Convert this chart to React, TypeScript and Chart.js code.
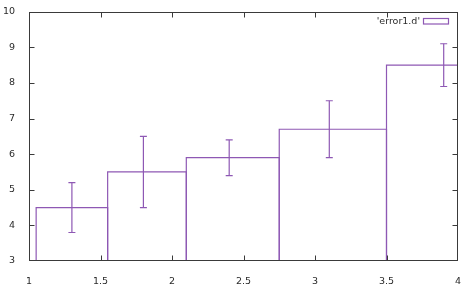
import { useEffect, useRef } from 'react';
import { Chart, registerables } from 'chart.js';
Chart.register(...registerables);

const xValues = [1.3, 1.8, 2.4, 3.1, 3.9];
const yValues = [4.5, 5.5, 5.9, 6.7, 8.5];
const yErrors = [0.7, 1.0, 0.5, 0.8, 0.6];
const xTicks = [1, 1.5, 2, 2.5, 3, 3.5, 4];
const yTicks = [3, 4, 5, 6, 7, 8, 9, 10];
const legendLabel = "'error1.d'";
const BOX_BASE = 0;

const PURPLE = '#8e58b4';
const AXIS = '#3a3a3a';
const TEXT = '#2a2a2a';
const FONT = { family: 'DejaVu Sans', size: 9.5 };

export default function App() {
  const ref = useRef<HTMLCanvasElement>(null);
  useEffect(() => {
    const n = xValues.length;
    const boxDatasets = xValues.map((x, i) => {
      const prev = i > 0 ? xValues[i - 1] : x - (xValues[1] - xValues[0]);
      const next = i < n - 1 ? xValues[i + 1] : x + (x - xValues[i - 1]);
      const left = (prev + x) / 2;
      const right = (x + next) / 2;
      return {
        type: 'line' as const,
        data: [
          { x: left, y: BOX_BASE },
          { x: left, y: yValues[i] },
          { x: right, y: yValues[i] },
          { x: right, y: BOX_BASE },
        ],
        borderColor: PURPLE,
        borderWidth: 1.2,
        pointRadius: 0,
        fill: false,
        tension: 0,
      };
    });
    const errDatasets = xValues.map((x, i) => ({
      type: 'line' as const,
      data: [
        { x, y: yValues[i] - yErrors[i] },
        { x, y: yValues[i] + yErrors[i] },
      ],
      borderColor: PURPLE,
      borderWidth: 1.2,
      pointStyle: 'line' as const,
      pointRadius: 3.5,
      pointBorderColor: PURPLE,
      pointBorderWidth: 1.2,
      fill: false,
    }));

    const framePlugin = {
      id: 'frame',
      afterDraw(chart: any) {
        const { ctx, chartArea: a, scales } = chart;
        ctx.save();
        ctx.strokeStyle = AXIS;
        ctx.lineWidth = 1;
        const L = Math.round(a.left) + 0.5;
        const R = Math.round(a.right) - 0.5;
        const T = Math.round(a.top) + 0.5;
        const B = Math.round(a.bottom) - 0.5;
        ctx.strokeRect(L, T, R - L, B - T);
        const tl = 5;
        const clamp = (v: number, lo: number, hi: number) => Math.min(hi, Math.max(lo, v));
        ctx.beginPath();
        xTicks.forEach((v) => {
          const px = clamp(Math.round(scales.x.getPixelForValue(v)) + 0.5, L, R);
          ctx.moveTo(px, B);
          ctx.lineTo(px, B - tl);
          ctx.moveTo(px, T);
          ctx.lineTo(px, T + tl);
        });
        yTicks.forEach((v) => {
          const py = clamp(Math.round(scales.y.getPixelForValue(v)) + 0.5, T, B);
          ctx.moveTo(L, py);
          ctx.lineTo(L + tl, py);
          ctx.moveTo(R, py);
          ctx.lineTo(R - tl, py);
        });
        ctx.stroke();
        // legend
        ctx.fillStyle = TEXT;
        ctx.font = `${FONT.size}px ${FONT.family}`;
        ctx.textAlign = 'right';
        ctx.textBaseline = 'middle';
        ctx.fillText(legendLabel, 420, 21.5);
        ctx.strokeStyle = PURPLE;
        ctx.lineWidth = 1.2;
        ctx.strokeRect(423.5, 18.5, 25, 5.5);
        ctx.restore();
      },
    };

    const chart = new Chart(ref.current!, {
      type: 'line',
      data: { datasets: [...boxDatasets, ...errDatasets] as any },
      options: {
        animation: false,
        responsive: false,
        devicePixelRatio: 1,
        layout: { padding: { top: 11, right: 16, left: 0, bottom: 0 } },
        plugins: { legend: { display: false }, tooltip: { enabled: false } },
        scales: {
          x: {
            type: 'linear',
            min: 1,
            max: 4,
            afterBuildTicks: (s: any) => {
              s.ticks = xTicks.map((v) => ({ value: v }));
            },
            afterFit: (s: any) => {
              s.height = 32;
            },
            grid: { display: false },
            border: { display: false },
            ticks: {
              font: FONT,
              color: TEXT,
              padding: 7,
              maxRotation: 0,
              autoSkip: false,
              callback: (v: any) => String(v),
            },
          },
          y: {
            type: 'linear',
            min: 3,
            max: 10,
            afterBuildTicks: (s: any) => {
              s.ticks = yTicks.map((v) => ({ value: v }));
            },
            afterFit: (s: any) => {
              s.width = 29;
            },
            grid: { display: false },
            border: { display: false },
            ticks: {
              font: FONT,
              color: TEXT,
              padding: 6,
              autoSkip: false,
              callback: (v: any) => String(v),
            },
          },
        },
      },
      plugins: [framePlugin],
    });
    return () => chart.destroy();
  }, []);

  return (
    <div style={{ position: 'fixed', left: 0, top: 0, width: 474, height: 293, background: '#fff' }}>
      <canvas ref={ref} width={474} height={293} style={{ display: 'block' }} />
    </div>
  );
}
